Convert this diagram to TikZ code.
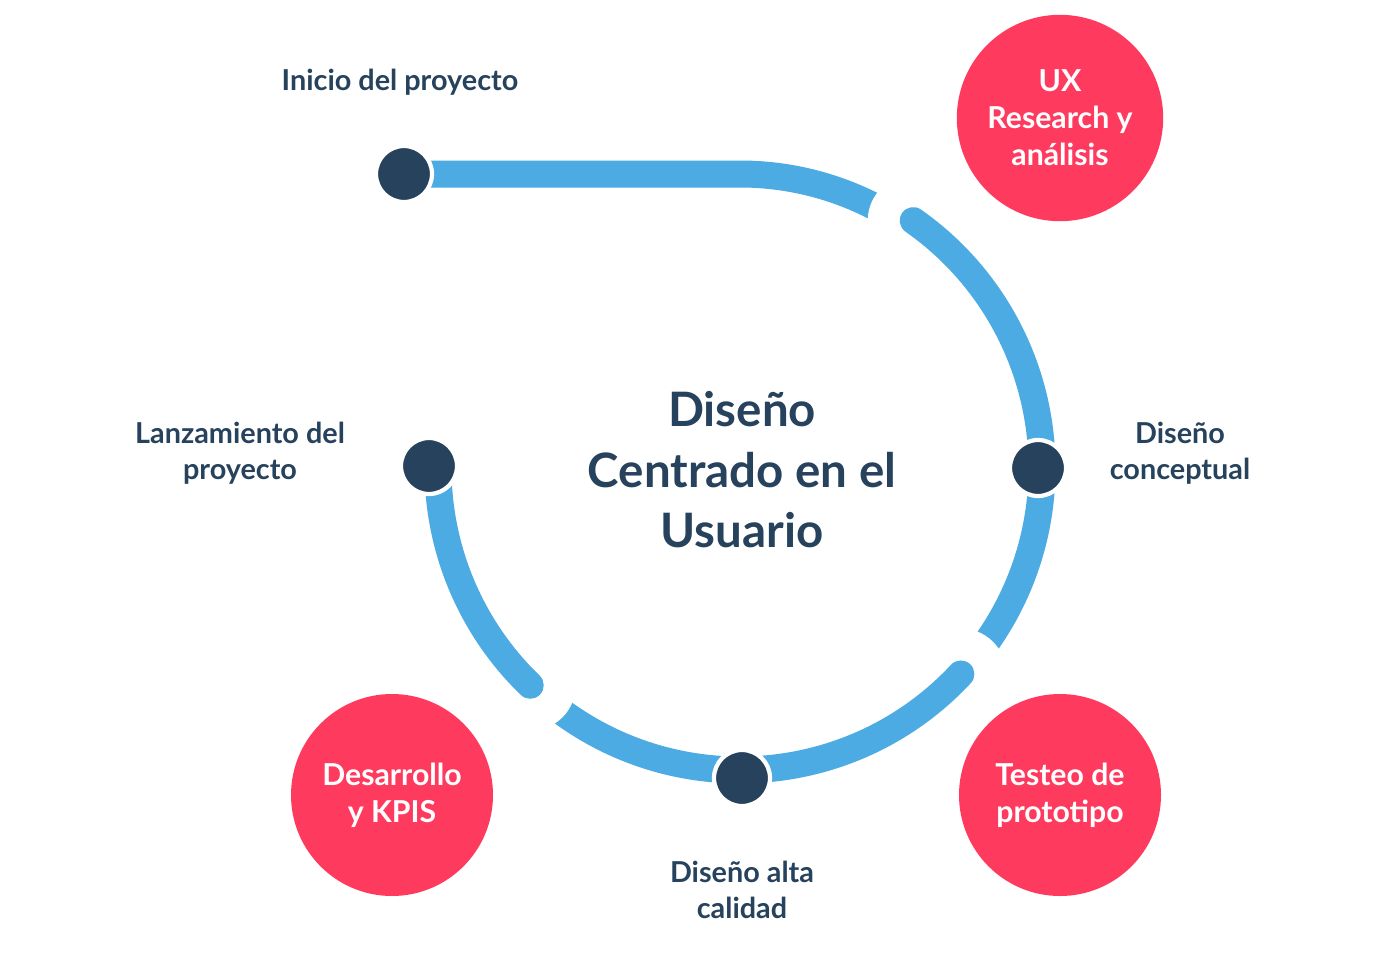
\documentclass[tikz,border=0pt]{standalone}
\usepackage{fontspec}
\setmainfont{Lato}
\usetikzlibrary{positioning,calc}
\definecolor{track}{HTML}{4BABE2}
\definecolor{navy}{HTML}{27425C}
\definecolor{rose}{HTML}{FF3A5F}
\tikzset{
  seg/.style={line width=0.32cm, line cap=round, white, double=track, double distance=0.27cm},
  stop/.style={circle, fill=navy, draw=white, line width=1.2pt, minimum size=0.56cm, inner sep=0pt},
  phase/.style={circle, fill=rose, minimum size=2.02cm, text=white, align=center, font=\bfseries\fontsize{8.6}{10.5}\selectfont},
  label/.style={text=navy, align=center, font=\bfseries\fontsize{8.2}{10.3}\selectfont}
}
\begin{document}
\begin{tikzpicture}
        \useasboundingbox (0,0) rectangle (14,9.6);
        \coordinate (c) at (7.40,4.92);

        % Track
        \draw [seg] (4.04,7.86) -- (7.40,7.86) arc (90:48:2.94);
        \draw [seg] ($(c)+(55:3.02)$) arc (55:-48:3.02);
        \draw [seg] ($(c)+(-43:3.02)$) arc (-43:-130:3.02);
        \draw [seg] ($(c)+(-134:3.02)$) arc (-134:-180:3.02);

        % Stops
        \node at (4.04,7.86) [stop] (start) {};
        \node at (10.38,4.92) [stop] (concept) {};
        \node at (7.42,1.82) [stop] (quality) {};
        \node at (4.29,4.94) [stop] (launch) {};

        % Phases
        \node at (10.60,8.42) [phase] (research) {UX\\Research y\\análisis};
        \node at (10.60,1.65) [phase] (testing) {Testeo de\\prototipo};
        \node at (3.92,1.65) [phase] (develop) {Desarrollo\\y KPIS};

        % Text
        \node at (4.00,8.78) [label] {Inicio del proyecto};
        \node at (11.80,5.07) [label] {Diseño\\conceptual};
        \node at (7.42,0.70) [label] {Diseño alta\\calidad};
        \node at (2.40,5.07) [label] {Lanzamiento del\\proyecto};
        \node at (7.42,4.90) [text=navy, align=center, font=\bfseries\fontsize{13.5}{17.2}\selectfont] (title) {Diseño\\Centrado en el\\Usuario};
\end{tikzpicture}
\end{document}
